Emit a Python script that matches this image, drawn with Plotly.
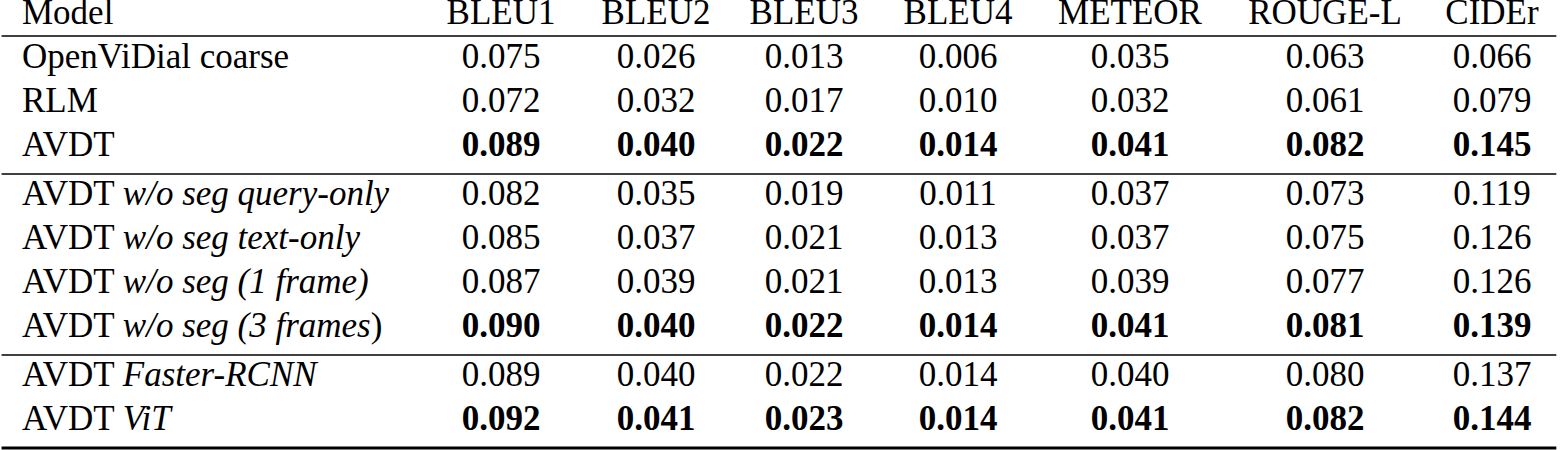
import plotly.graph_objects as go

# table contents
columns = ["BLEU1", "BLEU2", "BLEU3", "BLEU4", "METEOR", "ROUGE-L", "CIDEr"]
models = [
    "OpenViDial coarse",
    "RLM",
    "AVDT",
    "AVDT <i>w/o seg query-only</i>",
    "AVDT <i>w/o seg text-only</i>",
    "AVDT <i>w/o seg (1 frame)</i>",
    "AVDT <i>w/o seg (3 frames</i>)",
    "AVDT <i>Faster-RCNN</i>",
    "AVDT <i>ViT</i>",
]
groups = [0, 0, 0, 1, 1, 1, 1, 2, 2]
bold_rows = [2, 6, 8]

bleu1 = [0.075, 0.072, 0.089, 0.082, 0.085, 0.087, 0.090, 0.089, 0.092]
bleu2 = [0.026, 0.032, 0.040, 0.035, 0.037, 0.039, 0.040, 0.040, 0.041]
bleu3 = [0.013, 0.017, 0.022, 0.019, 0.021, 0.021, 0.022, 0.022, 0.023]
bleu4 = [0.006, 0.010, 0.014, 0.011, 0.013, 0.013, 0.014, 0.014, 0.014]
meteor = [0.035, 0.032, 0.041, 0.037, 0.037, 0.039, 0.041, 0.040, 0.041]
rouge_l = [0.063, 0.061, 0.082, 0.073, 0.075, 0.077, 0.081, 0.080, 0.082]
cider = [0.066, 0.079, 0.145, 0.119, 0.126, 0.126, 0.139, 0.137, 0.144]
values = [bleu1, bleu2, bleu3, bleu4, meteor, rouge_l, cider]

# layout (pixel-like units)
W, H = 1561, 450
col_x = [501, 656, 804, 958, 1130, 1325, 1492]
name_x = 22
first_y, pitch, gap = 59, 44, 5
row_y = [first_y + pitch * i + gap * g for i, g in enumerate(groups)]
header_y = first_y - pitch

FONT = "Liberation Serif, Times New Roman, serif"
FS = 35

fig = go.Figure()

# header
fig.add_trace(go.Scatter(
    x=[name_x], y=[header_y], mode="text", text=["Model"],
    textposition="middle right", textfont=dict(family=FONT, size=FS, color="black"),
    hoverinfo="skip", showlegend=False, cliponaxis=False,
))
fig.add_trace(go.Scatter(
    x=col_x, y=[header_y] * len(columns), mode="text", text=columns,
    textposition="middle center", textfont=dict(family=FONT, size=FS, color="black"),
    hoverinfo="skip", showlegend=False, cliponaxis=False,
))

# model names
fig.add_trace(go.Scatter(
    x=[name_x] * len(models), y=row_y, mode="text", text=models,
    textposition="middle right", textfont=dict(family=FONT, size=FS, color="black"),
    hoverinfo="skip", showlegend=False,
))

# numbers
for cx, vals in zip(col_x, values):
    txt = [f"<b>{v:.3f}</b>" if i in bold_rows else f"{v:.3f}" for i, v in enumerate(vals)]
    fig.add_trace(go.Scatter(
        x=[cx] * len(vals), y=row_y, mode="text", text=txt,
        textposition="middle center", textfont=dict(family=FONT, size=FS, color="black"),
        hoverinfo="skip", showlegend=False,
    ))

# rules
rules = [(first_y - 23, 1.6)]
for i in range(1, len(groups)):
    if groups[i] != groups[i - 1]:
        rules.append((row_y[i - 1] + 27, 1.6))
rules.append((row_y[-1] + 27, 3.2))
for ry, lw in rules:
    fig.add_shape(type="line", xref="paper", yref="y", x0=0.001, x1=0.997,
                  y0=ry, y1=ry, line=dict(color="black", width=lw))

fig.update_layout(
    width=W, height=H,
    margin=dict(l=0, r=0, t=0, b=0),
    paper_bgcolor="white", plot_bgcolor="white",
    xaxis=dict(range=[0, W], visible=False, fixedrange=True),
    yaxis=dict(range=[H, 0], visible=False, fixedrange=True),
)

fig.write_html("out.html", config={"displayModeBar": False},
               post_script="document.body.style.margin='0px';")
